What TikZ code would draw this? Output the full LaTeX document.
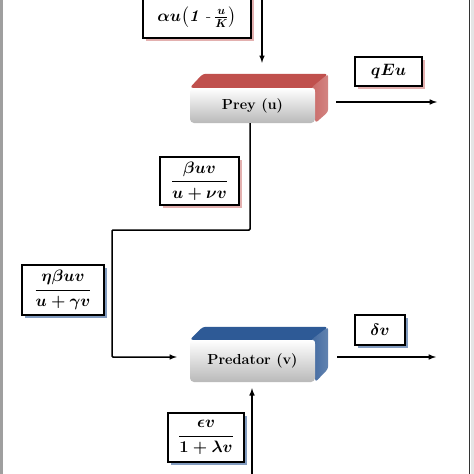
\RequirePackage{fix-cm}
\documentclass[tikz,border=0pt]{standalone}
\usepackage{amsmath}
\usetikzlibrary{shadows,backgrounds}

\definecolor{preyred}{HTML}{C0504D}
\definecolor{predblue}{HTML}{2E5A96}

\begin{document}
\begin{tikzpicture}[
        x=1pt, y=-1pt,
        ratebox/.style={draw, line width=1.2pt, fill=white, inner sep=2pt,
            font=\fontsize{16.5}{19}\selectfont\boldmath,
            drop shadow={shadow xshift=2.5pt, shadow yshift=-2.5pt, fill=#1, opacity=1}},
        block/.style={rounded corners=4pt, top color=white, bottom color=gray!55,
            minimum width=125pt, minimum height=42pt, inner sep=0pt,
            font=\fontsize{14.5}{17}\selectfont\bfseries},
        flow/.style={line width=1.5pt, -latex}
    ]
        \clip (0,0) rectangle (474,474);
        \begin{scope}[on background layer]
            \fill[white] (0,0) rectangle (474,474);
            \fill[gray!75] (0,0) rectangle (3,474);
            \fill[gray!20] (470.5,0) rectangle (474,474);
            \draw[line width=1.3pt, black!80] (469.5,0) -- (469.5,474);
        \end{scope}

        % compartments
        \node [block, minimum height=35pt] (prey) at (252.5,105.5) {Prey (u)};
        \node [block] (pred) at (252.5,361) {Predator (v)};
        \begin{scope}[on background layer]
            \fill[preyred, rounded corners=3pt] (prey.north west) -- ++(13,-14) -- ++(125,0) -- (prey.north east) -- cycle;
            \shade[left color=preyred!85, right color=preyred!70, rounded corners=3pt] (prey.north east) -- ++(-4,0) -- ++(17,-14) -- ++(0,38) -- (prey.south east) -- cycle;
            \fill[predblue, rounded corners=3pt] (pred.north west) -- ++(13,-13) -- ++(125,0) -- (pred.north east) -- cycle;
            \shade[left color=predblue!90, right color=predblue!75, rounded corners=3pt] (pred.north east) -- ++(-4,0) -- ++(17,-13) -- ++(0,42) -- (pred.south east) -- cycle;
        \end{scope}

        % rates
        \node [ratebox=preyred!45, minimum width=108pt, minimum height=42pt] (growth) at (197,17) {$\alpha u\big(\mathit{1}\ \mbox{-}\,\frac{u}{K}\big)$};
        \node [ratebox=preyred!45, minimum width=67pt, minimum height=29pt] (harvest) at (388.5,71.5) {$qEu$};
        \node [ratebox=preyred!45, minimum width=79pt, minimum height=48pt] (predation) at (199.5,181) {$\dfrac{\beta uv}{u+\nu v}$};
        \node [ratebox=predblue!60, minimum width=82pt, minimum height=50pt] (conversion) at (63,290) {$\dfrac{\eta\beta uv}{u+\gamma v}$};
        \node [ratebox=predblue!60, minimum width=50pt, minimum height=30pt] (death) at (380,330) {$\delta v$};
        \node [ratebox=predblue!60, minimum width=76pt, minimum height=49pt] (supply) at (206,437.5) {$\dfrac{\epsilon v}{1+\lambda v}$};

        % flows
        \coordinate (topin) at (262,0);
        \coordinate (preyout) at (437,102);
        \coordinate (bend) at (112,230);
        \coordinate (predout) at (436,357);
        \coordinate (botin) at (252,474);

        \draw [flow, shorten >=25pt] (topin) -- (topin |- prey.north);
        \draw [flow, shorten <=21pt] (preyout -| prey.east) -- (preyout);
        \draw [flow, shorten >=13pt, rounded corners=1pt] ([xshift=-2.5pt]prey.south) |- (bend) |- ([yshift=4pt]pred.west);
        \draw [flow, shorten <=22pt] (predout -| pred.east) -- (predout);
        \draw [flow, shorten >=6pt] (botin) -- (botin |- pred.south);
    \end{tikzpicture}
\end{document}
